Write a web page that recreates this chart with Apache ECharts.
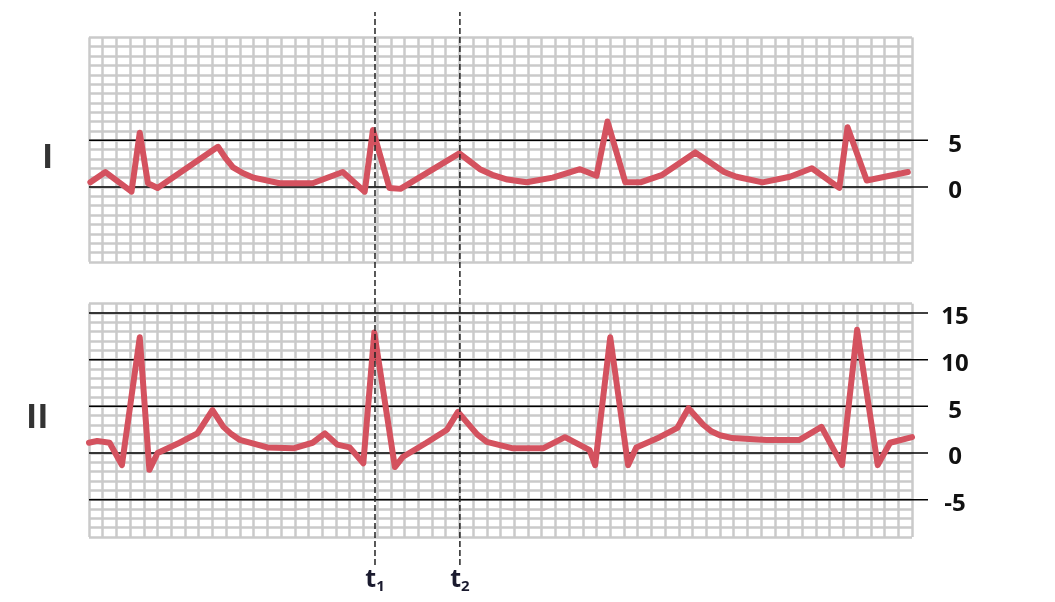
<!DOCTYPE html>
<html>
<head>
<meta charset="utf-8">
<script src="https://cdn.jsdelivr.net/npm/echarts@6/dist/echarts.min.js"></script>
<style>
html,body{margin:0;padding:0;background:#fff;}
#c{width:1055px;height:602px;}
</style>
</head>
<body>
<div id="c"></div>
<script>
// Lead I trace: [time (small grid units), amplitude]
var leadI = [
  [0.1,0.5],[1.2,1.6],[3.1,-0.5],[3.7,5.8],[4.3,0.4],[5.0,-0.1],
  [9.4,4.3],[10.0,3.0],[10.5,2.1],[11.2,1.5],[12.0,1.0],[13.9,0.4],[16.3,0.4],[18.5,1.6],
  [20.1,-0.5],[20.7,6.1],[21.9,-0.1],[22.7,-0.2],[27.0,3.6],[27.8,2.7],
  [28.5,1.9],[29.4,1.3],[30.5,0.8],[31.9,0.5],[33.8,1.0],[35.8,1.9],[37.0,1.2],[37.8,7.0],
  [39.1,0.5],[40.2,0.5],[41.8,1.3],[44.2,3.7],[45.5,2.4],[46.3,1.6],[47.2,1.1],
  [49.1,0.5],[51.1,1.1],[52.7,2.0],[54.7,-0.1],[55.3,6.4],[56.7,0.7],
  [59.7,1.6]
];
// Lead II trace
var leadII = [
  [0.0,1.1],[0.6,1.3],[1.5,1.1],[2.4,-1.3],[3.7,12.4],[4.4,-1.8],
  [5.0,0.0],[6.6,1.1],[7.9,2.1],[9.0,4.6],[9.8,2.8],[10.4,2.0],[11.0,1.4],
  [13.0,0.6],[14.9,0.5],[16.3,1.1],[17.2,2.1],[18.1,0.9],[19.0,0.6],
  [20.0,-1.1],[20.8,12.9],[22.3,-1.5],[22.9,-0.4],[24.6,1.1],[26.1,2.5],
  [26.9,4.4],[27.6,3.2],[28.3,2.0],[29.0,1.2],[30.9,0.5],[33.1,0.5],[34.7,1.7],
  [36.5,0.3],[36.9,-1.3],[38.0,12.4],[39.3,-1.3],[39.9,0.6],[41.6,1.7],
  [42.9,2.7],[43.7,4.8],[44.8,3.0],[45.4,2.3],[46.0,1.9],[46.9,1.6],[49.4,1.4],
  [51.8,1.4],[53.4,2.8],[54.9,-1.3],[56.0,13.2],[57.5,-1.3],[58.4,1.1],
  [60.0,1.7]
];
var topTicks = [0, 5];
var bottomTicks = [-5, 0, 5, 10, 15];
var timeMarks = [20.85, 27.04];
var timeSubs = ['1', '2'];
var leadNames = ['I', 'II'];

var chart = echarts.init(document.getElementById('c'));
var RED = '#d4525f';
var GRAYLINE = '#cacaca';
var labelFont = '"Open Sans", "Liberation Sans", sans-serif';

var paperX = function(idx){ return {gridIndex:idx, type:'value', min:0, max:60, interval:1,
  axisLine:{show:false}, axisTick:{show:false}, axisLabel:{show:false},
  splitLine:{show:true, lineStyle:{color:GRAYLINE, width:2.5}}}; };
var paperY = function(idx, mn, mx){ return {gridIndex:idx, type:'value', min:mn, max:mx, interval:1,
  axisLine:{show:false}, axisTick:{show:false}, axisLabel:{show:false},
  splitLine:{show:true, lineStyle:{color:GRAYLINE, width:2.5}}}; };
var hidX = function(idx, mn, mx){ return {gridIndex:idx, type:'value', min:mn, max:mx, show:false}; };
var tickY = function(idx, mn, mx, ticks){ return {gridIndex:idx, type:'value', min:mn, max:mx, position:'right',
  axisLine:{show:false}, axisTick:{show:false}, splitLine:{show:false},
  axisLabel:{show:true, customValues:ticks, margin:27, align:'center', verticalAlign:'middle',
    formatter:function(v){ return '{v|' + v + '}'; },
    rich:{v:{fontSize:24, fontWeight:'bold', color:'#111', fontFamily:labelFont, padding:[9,0,0,0]}}}}; };

var series = [];
// black reference lines
topTicks.forEach(function(v){
  series.push({type:'line', xAxisIndex:2, yAxisIndex:2, data:[[0,v],[1,v]], symbol:'none', silent:true,
    lineStyle:{color:'#000', width:1.5}, z:3});
});
bottomTicks.forEach(function(v){
  series.push({type:'line', xAxisIndex:3, yAxisIndex:3, data:[[0,v],[1,v]], symbol:'none', silent:true,
    lineStyle:{color:'#000', width:1.5}, z:3});
});
// traces
series.push({type:'line', xAxisIndex:0, yAxisIndex:0, data:leadI, symbol:'none', silent:true,
  lineStyle:{color:RED, width:6, join:'round', cap:'round'}, z:5});
series.push({type:'line', xAxisIndex:1, yAxisIndex:1, data:leadII, symbol:'none', silent:true,
  lineStyle:{color:RED, width:6, join:'round', cap:'round'}, z:5});
// time markers
timeMarks.forEach(function(t, i){
  series.push({type:'line', xAxisIndex:4, yAxisIndex:4, symbol:'circle', symbolSize:1, showSymbol:true, silent:true,
    itemStyle:{color:'rgba(0,0,0,0)'},
    data:[{value:[t,0], label:{show:true, position:'bottom', distance:0,
      formatter:'{a|t}{b|' + timeSubs[i] + '}',
      rich:{a:{fontSize:25, fontWeight:'bold', color:'#1a1a2e', fontFamily:labelFont},
            b:{fontSize:15, fontWeight:'bold', color:'#1a1a2e', fontFamily:labelFont, padding:[14,0,0,0]}}}},
      {value:[t,1]}],
    lineStyle:{color:'#222', width:1.5, type:[6,3]}, z:6});
});

chart.setOption({
  animation:false,
  backgroundColor:'#fff',
  title:[
    {text:leadNames[0], left:37, top:136, textStyle:{fontSize:34, fontWeight:'bold', color:'#333', fontFamily:labelFont}},
    {text:leadNames[1], left:21, top:396, textStyle:{fontSize:34, fontWeight:'bold', color:'#333', fontFamily:labelFont}}
  ],
  grid:[
    {left:89, width:823, top:37.4, height:224.4},
    {left:89, width:823, top:303.7, height:233.3},
    {left:89, width:839, top:37.4, height:224.4},
    {left:89, width:839, top:303.7, height:233.3},
    {left:89, width:823, top:12, height:553}
  ],
  xAxis:[paperX(0), paperX(1), hidX(2,0,1), hidX(3,0,1), hidX(4,0,60)],
  yAxis:[paperY(0,-8,16), paperY(1,-9,16), tickY(2,-8,16,topTicks), tickY(3,-9,16,bottomTicks),
         {gridIndex:4, type:'value', min:0, max:1, show:false}],
  series:series
});
</script>
</body>
</html>
